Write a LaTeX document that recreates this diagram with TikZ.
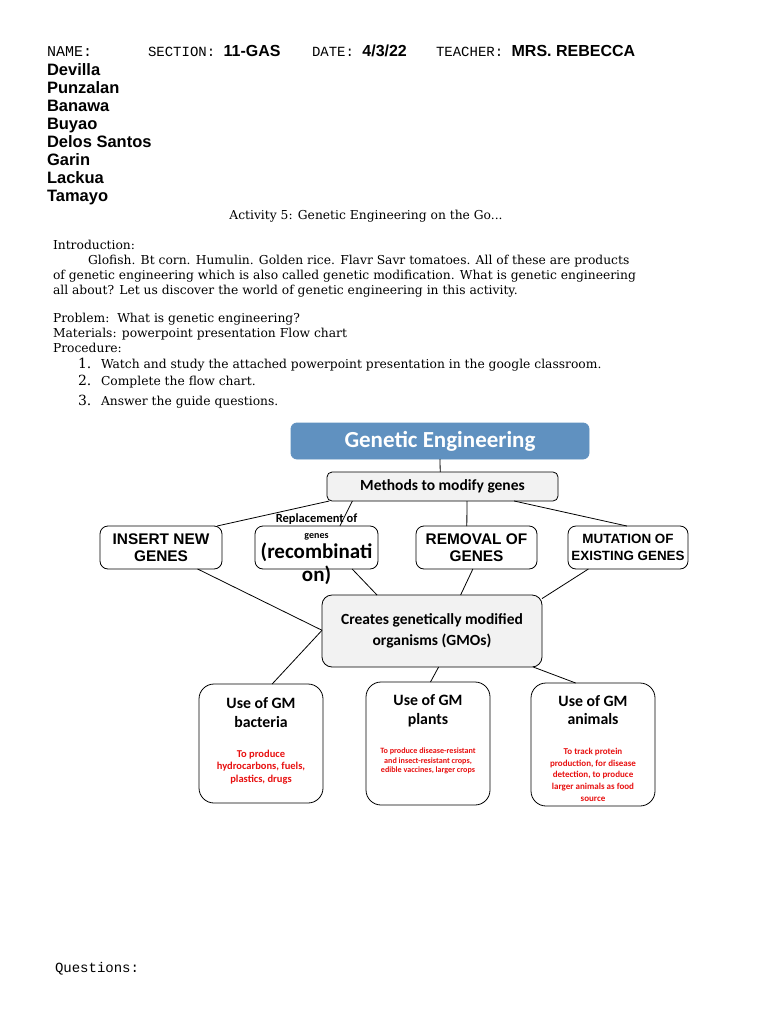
\documentclass[tikz,border=0pt]{standalone}
\usepackage{fontspec}
\setmainfont{DejaVu Serif}
\newfontfamily\chartfont{Carlito}
\newfontfamily\headfont{Liberation Sans}
\newfontfamily\formfont{Liberation Mono}
\usetikzlibrary{positioning,calc}
\definecolor{geblue}{RGB}{96,145,192}
\definecolor{boxgray}{RGB}{242,242,242}
\definecolor{gmored}{RGB}{232,16,16}

\begin{document}
\begin{tikzpicture}[x=1pt,y=-1pt,line width=.8pt,inner sep=0pt,outer sep=0pt]
\useasboundingbox[fill=white] (0,0) rectangle (768,1024);
% header of the sheet
\node[anchor=base west,font=\formfont\fontsize{15}{17}\selectfont] (hname) at (47,57) {NAME:};
\node[anchor=base west,font=\formfont\fontsize{14}{16}\selectfont] (hsec) at (148,57) {SECTION: {\headfont\bfseries\fontsize{16}{17}\selectfont 11-GAS}};
\node[anchor=base west,font=\formfont\fontsize{14}{16}\selectfont] (hdate) at (312,57) {DATE: {\headfont\bfseries\fontsize{16}{17}\selectfont 4/3/22}};
\node[anchor=base west,font=\formfont\fontsize{14}{16}\selectfont] (hteach) at (436,57) {TEACHER: {\headfont\bfseries\fontsize{16}{17}\selectfont MRS. REBECCA}};
\foreach \who [count=\i] in {Devilla,Punzalan,Banawa,Buyao,Delos Santos,Garin,Lackua,Tamayo}
  \node[anchor=base west,font=\headfont\bfseries\fontsize{16.5}{17}\selectfont] (member\i) at (47,{57+18.1*\i}) {\who};
% activity text
\node[anchor=base,font=\fontsize{12.3}{14}\selectfont] (title) at (366,219) {Activity 5: Genetic Engineering on the Go...};
\node[anchor=base west,font=\fontsize{12.3}{14}\selectfont] (intro) at (53,249) {Introduction:};
\node[anchor=base west,font=\fontsize{12.3}{14}\selectfont] (para1) at (88,264) {Glofish. Bt corn. Humulin. Golden rice. Flavr Savr tomatoes. All of these are products};
\node[anchor=base west,font=\fontsize{12.3}{14}\selectfont] (para2) at (53,279) {of genetic engineering which is also called genetic modification. What is genetic engineering};
\node[anchor=base west,font=\fontsize{12.3}{14}\selectfont] (para3) at (53,294) {all about? Let us discover the world of genetic engineering in this activity.};
\node[anchor=base west,font=\fontsize{12.3}{14}\selectfont] (problem) at (53,322) {Problem:\ \ What is genetic engineering?};
\node[anchor=base west,font=\fontsize{12.3}{14}\selectfont] (materials) at (53,337) {Materials: powerpoint presentation Flow chart};
\node[anchor=base west,font=\fontsize{12.3}{14}\selectfont] (procedure) at (53,352) {Procedure:};
\foreach \step/\yy [count=\i] in {Watch and study the attached powerpoint presentation in the google classroom./368,Complete the flow chart./385,Answer the guide questions./405}{
  \node[anchor=base west,font=\fontsize{14}{16}\selectfont] (num\i) at (78,\yy) {\i.};
  \node[anchor=base west,font=\fontsize{12.3}{14}\selectfont] (proc\i) at (101,\yy) {\step};
}
% flow chart
\node[draw=geblue,fill=geblue,rounded corners=6pt,minimum width=298pt,minimum height=36pt,text=white,font=\chartfont\bfseries\fontsize{23}{26}\selectfont] (ge) at (440,441) {Genetic Engineering};
\node[draw,fill=boxgray,rounded corners=5pt,minimum width=231pt,minimum height=29pt,font=\chartfont\bfseries\fontsize{15.5}{18}\selectfont] (methods) at (442.5,486.5) {Methods to modify genes};
\node[draw,rounded corners=8pt,minimum width=122pt,minimum height=43pt,align=center,font=\headfont\bfseries\fontsize{15.4}{17}\selectfont] (insert) at (161,547.5) {INSERT NEW\\GENES};
\node[draw,rounded corners=8pt,minimum width=123pt,minimum height=43pt] (replace) at (316.5,547.5) {};
\node[anchor=north,align=center,font=\chartfont\bfseries] (replacetext) at (316.5,514) {{\fontsize{12.5}{17}\selectfont Replacement of}\\[4pt]{\fontsize{10}{18}\selectfont genes}\\[1pt]{\fontsize{21}{20}\selectfont (recombinati}\\[4pt]{\fontsize{21}{22}\selectfont on)}};
\node[draw,rounded corners=8pt,minimum width=121pt,minimum height=43pt,align=center,font=\headfont\bfseries\fontsize{15.4}{17}\selectfont] (removal) at (476.5,547.5) {REMOVAL OF\\GENES};
\node[draw,rounded corners=8pt,minimum width=120pt,minimum height=43pt,align=center,font=\headfont\bfseries\fontsize{13.4}{17}\selectfont] (mutation) at (628,547.5) {MUTATION OF\\EXISTING GENES};
\node[draw,fill=boxgray,rounded corners=10pt,minimum width=220pt,minimum height=72pt,align=center,font=\chartfont\bfseries\fontsize{15.5}{21}\selectfont] (gmo) at (432,631) {Creates genetically modified\\organisms (GMOs)};
\node[draw,rounded corners=15pt,minimum width=124pt,minimum height=119pt] (bacteria) at (261,743.5) {};
\node[draw,rounded corners=15pt,minimum width=124pt,minimum height=123pt] (plants) at (428,743.5) {};
\node[draw,rounded corners=15pt,minimum width=124pt,minimum height=123pt] (animals) at (593,744.5) {};
\node[below=14pt of bacteria.north,align=center,font=\chartfont\bfseries\fontsize{15.8}{18.5}\selectfont] (bacttitle) {Use of GM\\bacteria};
\node[below=13pt of plants.north,align=center,font=\chartfont\bfseries\fontsize{15.8}{18.5}\selectfont] (planttitle) {Use of GM\\plants};
\node[below=13pt of animals.north,align=center,font=\chartfont\bfseries\fontsize{15.8}{17.5}\selectfont] (animtitle) {Use of GM\\animals};
\node[below=66pt of bacteria.north,align=center,text=gmored,font=\chartfont\bfseries\fontsize{10.5}{12.5}\selectfont] (bactuse) {To produce\\hydrocarbons, fuels,\\plastics, drugs};
\node[below=66pt of plants.north,align=center,text=gmored,font=\chartfont\bfseries\fontsize{8.1}{9.6}\selectfont] (plantuse) {To produce disease-resistant\\and insect-resistant crops,\\edible vaccines, larger crops};
\node[below=65pt of animals.north,align=center,text=gmored,font=\chartfont\bfseries\fontsize{9}{11.7}\selectfont] (animuse) {To track protein\\production, for disease\\detection, to produce\\larger animals as food\\source};
% connectors
\draw (ge.south) -- ($(methods.north west)!.49!(methods.north east)$);
\draw ($(methods.south west)!.01!(methods.south east)$) -- ($(insert.north west)!.96!(insert.north east)$);
\draw ($(methods.south west)!.11!(methods.south east)$) -- ($(replace.north west)!.69!(replace.north east)$);
\draw ($(methods.south west)!.606!(methods.south east)$) -- ($(removal.north west)!.42!(removal.north east)$);
\draw ($(methods.south west)!.81!(methods.south east)$) -- ($(mutation.north west)!.49!(mutation.north east)$);
\draw ($(insert.south west)!.8!(insert.south east)$) -- ($(gmo.north west)!.49!(gmo.south west)$);
\draw ($(replace.south west)!.79!(replace.south east)$) -- ($(gmo.north west)!.25!(gmo.north east)$);
\draw ($(removal.south west)!.47!(removal.south east)$) -- ($(gmo.north west)!.63!(gmo.north east)$);
\draw ($(mutation.south west)!.17!(mutation.south east)$) -- ($(gmo.north east)!.05!(gmo.south east)$);
\draw ($(gmo.north west)!.49!(gmo.south west)$) -- ($(bacteria.north west)!.59!(bacteria.north east)$);
\draw ($(gmo.south west)!.53!(gmo.south east)$) -- ($(plants.north west)!.52!(plants.north east)$);
\draw ($(gmo.south west)!.96!(gmo.south east)$) -- ($(animals.north west)!.36!(animals.north east)$);
\node[anchor=base west,font=\formfont\fontsize{14}{16}\selectfont] (questions) at (55,972) {Questions:};
\end{tikzpicture}
\end{document}
